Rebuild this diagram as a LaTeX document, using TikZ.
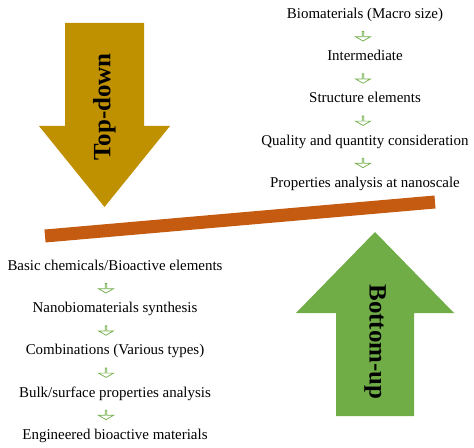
\documentclass[tikz,border=0pt]{standalone}
\usepackage{fontspec}
\setmainfont{Liberation Serif}
\usepackage{xcolor}
\usetikzlibrary{positioning,shapes.arrows}

\definecolor{topgold}{HTML}{BF9000}
\definecolor{barorange}{HTML}{C55A11}
\definecolor{upgreen}{HTML}{70AD47}

\begin{document}
\begin{tikzpicture}[
  x=1bp, y=-1bp,
  node distance = 24.8bp,
  stage/.style  = {inner sep=2bp, text height=10bp, text depth=3bp,
                   font=\fontsize{15}{18}\selectfont},
  hollow/.style = {single arrow, shape border rotate=270, draw=upgreen,
                   line width=0.7bp, inner sep=0pt, minimum height=9.5bp,
                   minimum width=15bp, single arrow head extend=3.5bp,
                   single arrow tip angle=120},
  bigword/.style = {font=\fontsize{25}{27}\selectfont\bfseries, inner sep=0pt}
]
  \useasboundingbox (0,0) rectangle (474,448);

  % Big arrows
  \fill[topgold] (65,23) -- (144,23) -- (144,126) -- (170,126) -- (104.5,207)
                 -- (39,126) -- (65,126) -- cycle;
  \fill[upgreen] (336,416) -- (414,416) -- (414,313) -- (454,313) -- (375,232)
                 -- (296,313) -- (336,313) -- cycle;
  \node[bigword, rotate=90]  (topdown)  at (104.5,107) {Top-down};
  \node[bigword, rotate=-90] (bottomup) at (375,342)   {Bottom-up};

  % Balance bar
  \draw[barorange, line width=13bp] (45,236) -- (435,202);

  % Top-down chain (top right)
  \node[stage] (t1) at (365,15) {Biomaterials (Macro size)};
  \node[stage, below=of t1] (t2) {Intermediate};
  \node[stage, below=of t2] (t3) {Structure elements};
  \node[stage, below=of t3] (t4) {Quality and quantity consideration};
  \node[stage, below=of t4] (t5) {Properties analysis at nanoscale};

  % Bottom-up chain (bottom left)
  \node[stage] (b1) at (115,267) {Basic chemicals/Bioactive elements};
  \node[stage, below=of b1] (b2) {Nanobiomaterials synthesis};
  \node[stage, below=of b2] (b3) {Combinations (Various types)};
  \node[stage, below=of b3] (b4) {Bulk/surface properties analysis};
  \node[stage, below=of b4] (b5) {Engineered bioactive materials};

  % Small hollow arrows
  \path (t1) -- node[hollow, xshift=-2bp]{} (t2);
  \path (t2) -- node[hollow, xshift=-2bp]{} (t3);
  \path (t3) -- node[hollow, xshift=-2bp]{} (t4);
  \path (t4) -- node[hollow, xshift=-2bp]{} (t5);
  \path (b1) -- node[hollow, xshift=-9bp]{} (b2);
  \path (b2) -- node[hollow, xshift=-9bp]{} (b3);
  \path (b3) -- node[hollow, xshift=-9bp]{} (b4);
  \path (b4) -- node[hollow, xshift=-9bp]{} (b5);
\end{tikzpicture}
\end{document}
